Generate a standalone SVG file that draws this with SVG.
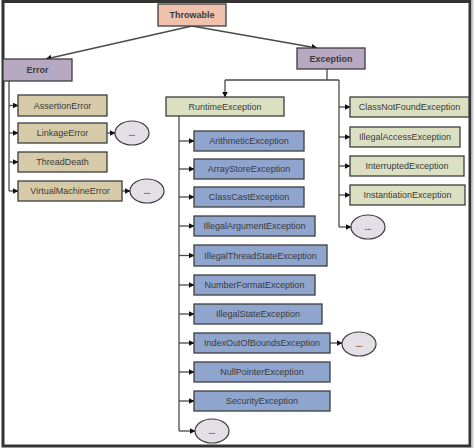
<svg xmlns="http://www.w3.org/2000/svg" width="474" height="448" viewBox="0 0 474 448">
<defs>
<marker id="ah" viewBox="0 0 10 10" refX="9" refY="5" markerWidth="6" markerHeight="6" orient="auto" markerUnits="userSpaceOnUse">
<path d="M0,0 L10,5 L0,10 z" fill="#111"/>
</marker>
<style>
.b{stroke:#3c3c3c;stroke-width:1.3}
.top{fill:#EFC2AE}
.cls{fill:#B8A9C3}
.err{fill:#D7CAA9}
.chk{fill:#DCE0C3}
.rt{fill:#8FA5CE}
.el{fill:#E4DFE6;stroke:#3c3c3c;stroke-width:1.2}
text{font-family:"Liberation Sans",Arial,sans-serif;font-size:9px;fill:#3a3a3a;text-anchor:middle;dominant-baseline:central}
.bold{font-weight:bold}
.dots{font-weight:bold;font-size:8px}
.c line,.c path{stroke:#4a4a4a;stroke-width:1.3;fill:none}
.c .a{marker-end:url(#ah)}
</style>
</defs>
<rect x="0" y="0" width="474" height="448" fill="#fff"/>
<rect x="3" y="1.5" width="467" height="444.5" fill="none" stroke="#333" stroke-width="3"/>
<line x1="472.5" y1="0" x2="472.5" y2="448" stroke="#ccc" stroke-width="2"/>

<g class="c" id="connectors">
<line class="a" x1="192" y1="26" x2="46" y2="59"/>
<line class="a" x1="192" y1="26" x2="317" y2="48"/>
<line x1="9" y1="81" x2="9" y2="191"/>
<line class="a" x1="9" y1="105.5" x2="18" y2="105.5"/>
<line class="a" x1="9" y1="133" x2="18" y2="133"/>
<line class="a" x1="9" y1="162" x2="18" y2="162"/>
<line class="a" x1="9" y1="191" x2="18" y2="191"/>
<line class="a" x1="107" y1="133" x2="115" y2="133"/>
<line class="a" x1="122" y1="191" x2="130" y2="191"/>
<line x1="327" y1="69" x2="327" y2="80"/>
<line x1="225" y1="80" x2="339" y2="80"/>
<line class="a" x1="225" y1="80" x2="225" y2="97"/>
<line x1="339" y1="80" x2="339" y2="227"/>
<line class="a" x1="339" y1="107" x2="350" y2="107"/>
<line class="a" x1="339" y1="137" x2="350" y2="137"/>
<line class="a" x1="339" y1="166" x2="350" y2="166"/>
<line class="a" x1="339" y1="195" x2="350" y2="195"/>
<line class="a" x1="339" y1="227" x2="351" y2="227"/>
<line x1="179" y1="116" x2="179" y2="431"/>
<line class="a" x1="179" y1="141" x2="194" y2="141"/>
<line class="a" x1="179" y1="169" x2="194" y2="169"/>
<line class="a" x1="179" y1="197" x2="194" y2="197"/>
<line class="a" x1="179" y1="226" x2="194" y2="226"/>
<line class="a" x1="179" y1="255.5" x2="194" y2="255.5"/>
<line class="a" x1="179" y1="285" x2="194" y2="285"/>
<line class="a" x1="179" y1="314" x2="194" y2="314"/>
<line class="a" x1="179" y1="343" x2="194" y2="343"/>
<line class="a" x1="179" y1="372" x2="194" y2="372"/>
<line class="a" x1="179" y1="401" x2="194" y2="401"/>
<line class="a" x1="179" y1="431" x2="195" y2="431"/>
<line class="a" x1="330" y1="343" x2="342" y2="343"/>
</g>

<g id="throwable"><rect class="b top" x="158" y="4" width="68" height="22"/><text class="bold" x="192" y="15">Throwable</text></g>
<g id="error"><rect class="b cls" x="3" y="59" width="69" height="22"/><text class="bold" x="37.5" y="70">Error</text></g>
<g id="exception"><rect class="b cls" x="297" y="48" width="68" height="21"/><text class="bold" x="331" y="58.5">Exception</text></g>

<g id="assertionerror"><rect class="b err" x="18" y="95" width="89" height="21"/><text x="62.5" y="105.5">AssertionError</text></g>
<g id="linkageerror"><rect class="b err" x="18" y="123" width="89" height="20"/><text x="62.5" y="133">LinkageError</text></g>
<g id="threaddeath"><rect class="b err" x="18" y="152" width="89" height="20"/><text x="62.5" y="162">ThreadDeath</text></g>
<g id="virtualmachineerror"><rect class="b err" x="18" y="181" width="104" height="20"/><text x="70" y="191">VirtualMachineError</text></g>
<g id="linkage-more"><ellipse class="el" cx="132" cy="133" rx="17" ry="12"/><text class="dots" x="132" y="133">...</text></g>
<g id="vme-more"><ellipse class="el" cx="147" cy="191" rx="17" ry="12"/><text class="dots" x="147" y="191">...</text></g>

<g id="runtimeexception"><rect class="b chk" x="166" y="97" width="118" height="19"/><text x="225" y="106.5">RuntimeException</text></g>
<g id="arithmeticexception"><rect class="b rt" x="194" y="131" width="110" height="20"/><text x="249" y="141">ArithmeticException</text></g>
<g id="arraystoreexception"><rect class="b rt" x="194" y="159" width="110" height="20"/><text x="249" y="169">ArrayStoreException</text></g>
<g id="classcastexception"><rect class="b rt" x="194" y="187" width="110" height="20"/><text x="249" y="197">ClassCastException</text></g>
<g id="illegalargumentexception"><rect class="b rt" x="194" y="216" width="121" height="20"/><text x="254.5" y="226">IllegalArgumentException</text></g>
<g id="illegalthreadstateexception"><rect class="b rt" x="194" y="245" width="133" height="21"/><text x="260.5" y="255.5">IllegalThreadStateException</text></g>
<g id="numberformatexception"><rect class="b rt" x="194" y="275" width="121" height="20"/><text x="254.5" y="285">NumberFormatException</text></g>
<g id="illegalstateexception"><rect class="b rt" x="194" y="304" width="128" height="20"/><text x="258" y="314">IllegalStateException</text></g>
<g id="indexoutofboundsexception"><rect class="b rt" x="194" y="333" width="136" height="20"/><text x="262" y="343">IndexOutOfBoundsException</text></g>
<g id="nullpointerexception"><rect class="b rt" x="194" y="362" width="136" height="20"/><text x="262" y="372">NullPointerException</text></g>
<g id="securityexception"><rect class="b rt" x="194" y="391" width="136" height="20"/><text x="262" y="401">SecurityException</text></g>
<g id="index-more"><ellipse class="el" cx="359" cy="344" rx="17" ry="12"/><text class="dots" x="359" y="344">...</text></g>
<g id="runtime-more"><ellipse class="el" cx="212" cy="431" rx="17" ry="12"/><text class="dots" x="212" y="431">...</text></g>

<g id="classnotfoundexception"><rect class="b chk" x="350" y="97" width="119" height="20"/><text x="409.5" y="107">ClassNotFoundException</text></g>
<g id="illegalaccessexception"><rect class="b chk" x="350" y="127" width="110" height="20"/><text x="405" y="137">IllegalAccessException</text></g>
<g id="interruptedexception"><rect class="b chk" x="350" y="156" width="114" height="20"/><text x="407" y="166">InterruptedException</text></g>
<g id="instantiationexception"><rect class="b chk" x="350" y="185" width="115" height="20"/><text x="407.5" y="195">InstantiationException</text></g>
<g id="exception-more"><ellipse class="el" cx="368" cy="227" rx="17" ry="12"/><text class="dots" x="368" y="227">...</text></g>
</svg>
